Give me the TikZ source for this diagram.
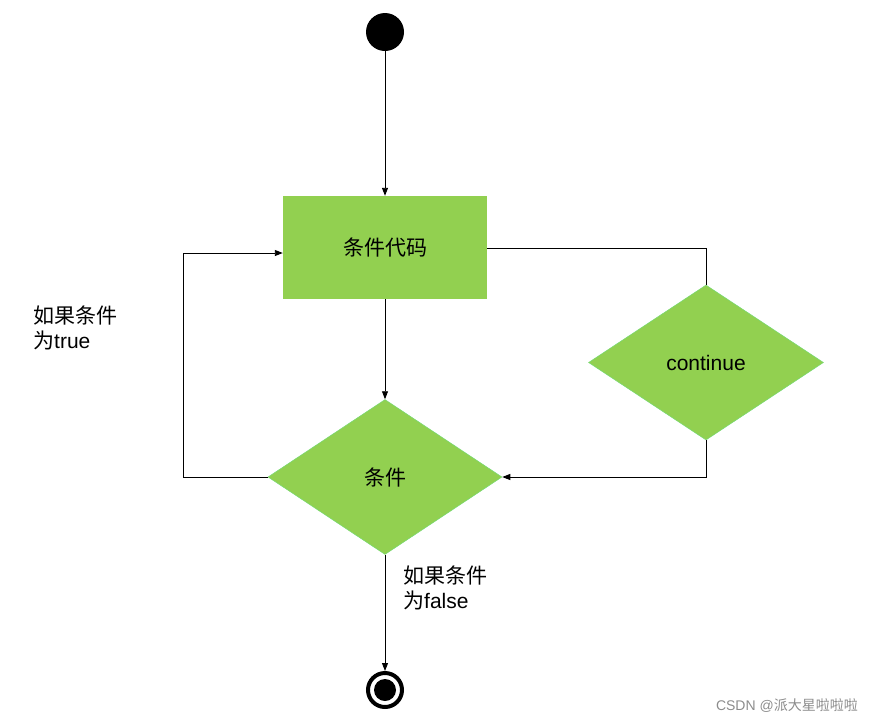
\documentclass[tikz,border=0pt]{standalone}
\usepackage{fontspec}
\setmainfont{Liberation Sans}
\newfontfamily\cjk{Noto Sans CJK SC}
\usetikzlibrary{shapes.geometric,arrows.meta}
\definecolor{gr}{HTML}{92D050}
\begin{document}
\begin{tikzpicture}[x=1pt,y=-1pt,
  conn/.style={draw=black,line width=0.9pt},
  arr/.style={conn,-{Triangle[length=8pt,width=6pt]}},
  txt/.style={font=\fontsize{21pt}{25pt}\selectfont},
  dia/.style={diamond,fill=gr,draw=gr!70!cyan!60,line width=0.5pt,inner sep=0pt,minimum width=#1}]
\useasboundingbox (0,0) rectangle (873,724);
\node[circle,fill=black,minimum size=38pt,inner sep=0pt] (start) at (385,32) {};
\node[fill=gr,minimum width=204pt,minimum height=103pt,inner sep=0pt,txt] (code) at (385,247.5) {\cjk 条件代码};
\node[diamond,fill=gr,draw=gr!80!cyan,line width=0.5pt,inner sep=0pt,minimum width=234pt,minimum height=155pt,txt,aspect=1.5] (cond) at (385,477) {\cjk 条件};
\node[diamond,fill=gr,draw=gr!80!cyan,line width=0.5pt,inner sep=0pt,minimum width=235pt,minimum height=155pt,txt,aspect=1.5] (cont) at (706,362.5) {continue};
\node[circle,draw=black,line width=4pt,minimum size=34pt,inner sep=0pt] (endc) at (385,690) {};
\node[circle,fill=black,minimum size=22pt,inner sep=0pt] (endi) at (385,690) {};
\coordinate (l1) at (183,477);
\coordinate (l2) at (183,253);
\coordinate (r1) at (706,248);
\coordinate (r2) at (706,477);
\draw[arr] (start) -- (code.north);
\draw[arr] (code.south) -- (cond.north);
\draw[arr] (cond.west) -- (l1) -- (l2) -- (code.west |- l2);
\draw[conn] (code.east |- r1) -- (r1) -- (cont.north);
\draw[arr] (cont.south) -- (r2) -- (cond.east);
\draw[arr] (cond.south) -- (endc.north);
\node[txt,align=left,anchor=north west,inner sep=0pt] (lt) at (33,306) {\cjk 如果条件\\{\cjk 为}true};
\node[txt,align=left,anchor=north west,inner sep=0pt] (lf) at (403,566) {\cjk 如果条件\\{\cjk 为}false};
\node[anchor=east,inner sep=0pt,text=black!45,font=\fontsize{14pt}{16pt}\selectfont] (wm) at (858,706) {CSDN @{\cjk 派大星啦啦啦}};
\end{tikzpicture}
\end{document}
